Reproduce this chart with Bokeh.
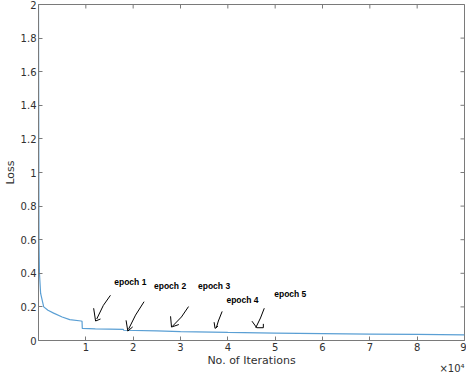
from bokeh.plotting import figure
from bokeh.models import Range1d, FixedTicker, Title
from bokeh.embed import file_html
from bokeh.resources import INLINE
from bokeh.core.properties import value

# ---- data ----
iterations = [0, 100, 200, 450, 1100, 2000, 3200, 5000, 6600, 9000, 9200, 9250,
              12000, 17900, 18000, 25000, 30000, 40000, 50000, 60000, 70000, 80000, 90000]
loss = [2.0, 0.6, 0.40, 0.28, 0.20, 0.18, 0.163, 0.14, 0.124, 0.116, 0.114, 0.072,
        0.069, 0.066, 0.061, 0.057, 0.053, 0.048, 0.044, 0.041, 0.038, 0.036, 0.034]

x_ticks = [10000, 20000, 30000, 40000, 50000, 60000, 70000, 80000, 90000]
x_tick_labels = ["1", "2", "3", "4", "5", "6", "7", "8", "9"]
y_ticks = [0, 0.2, 0.4, 0.6, 0.8, 1.0, 1.2, 1.4, 1.6, 1.8, 2.0]
y_tick_labels = ["0", "0.2", "0.4", "0.6", "0.8", "1", "1.2", "1.4", "1.6", "1.8", "2"]

epoch_labels = ["epoch 1", "epoch 2", "epoch 3", "epoch 4", "epoch 5"]
epoch_label_x = [16000, 24400, 33700, 39700, 49800]
epoch_label_y = [0.349, 0.326, 0.326, 0.244, 0.279]

arrow_shaft_x = [[15200, 13700, 12300], [22300, 20500, 19000], [31700, 30200, 28300],
                 [38800, 38000, 37570], [47700, 46900, 45900]]
arrow_shaft_y = [[0.269, 0.209, 0.128], [0.231, 0.151, 0.066], [0.202, 0.14, 0.085],
                 [0.173, 0.116, 0.076], [0.192, 0.134, 0.076]]
arrow_head_x = [[11650, 12060, 13100], [18500, 18870, 19900], [27900, 28100, 29650],
                [37100, 37300, 37900], [45100, 46100, 47500, 47500]]
arrow_head_y = [[0.192, 0.116, 0.128], [0.12, 0.056, 0.081], [0.144, 0.08, 0.095],
                [0.109, 0.072, 0.085], [0.115, 0.076, 0.076, 0.099]]

x_label = "No. of Iterations"
y_label = "Loss"
exp_label = "×10⁴"

# ---- figure ----
AX = "#7a7a7a"
TX = "#303030"
FONT = "DejaVu Sans"
X0, X1, Y0, Y1 = 0, 90000, 0, 2

p = figure(width=466, height=373, x_range=Range1d(X0, X1), y_range=Range1d(Y0, Y1),
           output_backend="svg", toolbar_location=None,
           min_border_left=2, min_border_right=2, min_border_top=4, min_border_bottom=33)
p.background_fill_color = "white"
p.border_fill_color = "white"
p.outline_line_color = AX
p.xgrid.visible = False
p.ygrid.visible = False

p.line(iterations, loss, line_color="#5a9fd4", line_width=1.2)

# inward ticks on the top and right edges of the box (half of each dash is clipped away)
p.scatter(x=x_ticks, y=[Y1] * len(x_ticks), marker="dash", angle=1.5708, size=8,
          line_color=AX, line_width=1)
p.scatter(x=[X1] * len(y_ticks), y=y_ticks, marker="dash", size=8,
          line_color=AX, line_width=1)

p.multi_line(arrow_shaft_x, arrow_shaft_y, line_color="black", line_width=1)
p.multi_line(arrow_head_x, arrow_head_y, line_color="black", line_width=1)
p.text(x=epoch_label_x, y=epoch_label_y, text=epoch_labels,
       text_font=value("Liberation Sans"), text_font_style="bold",
       text_font_size="8.5px", text_baseline="middle", text_align="left",
       text_color="black")


def style(ax, ticks, labels):
    ax.ticker = FixedTicker(ticks=ticks)
    ax.major_label_overrides = {t: l for t, l in zip(ticks, labels)}
    ax.axis_line_color = AX
    ax.major_tick_line_color = AX
    ax.minor_tick_line_color = None
    ax.major_tick_in = 4
    ax.major_tick_out = 0
    ax.major_label_text_font = FONT
    ax.major_label_text_color = TX
    ax.axis_label_text_font = FONT
    ax.axis_label_text_color = TX
    ax.axis_label_text_font_style = "normal"
    ax.major_label_text_font_size = "10px"
    ax.major_label_standoff = 2
    ax.axis_label_text_font_size = "11px"
    ax.axis_label_standoff = 0


xa = p.xaxis[0]
style(xa, x_ticks, x_tick_labels)
xa.axis_label = x_label
ya = p.yaxis[0]
style(ya, y_ticks, y_tick_labels)
ya.axis_label = y_label
ya.axis_label_standoff = 1
ya.major_label_standoff = 2

p.add_layout(Title(text=exp_label, align="right", vertical_align="top", text_font=FONT,
                   text_font_size="10px", text_font_style="normal", text_color=TX,
                   standoff=-14, offset=0),
             "below")

open("out.html", "w").write(file_html(p, INLINE))
